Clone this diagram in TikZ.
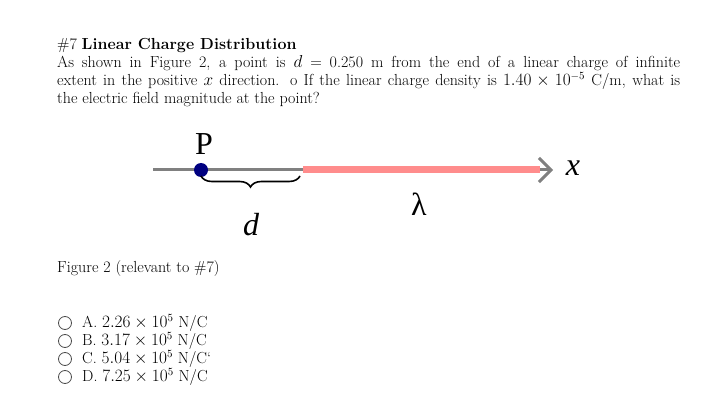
\documentclass[tikz,border=0pt]{standalone}
\usepackage{fontspec}
\newfontfamily\lbl{Liberation Serif}
\usetikzlibrary{decorations.pathreplacing,arrows.meta}
\begin{document}
\begin{tikzpicture}[x=1pt,y=-1pt,
  body/.style={anchor=north west,inner sep=0,font=\fontsize{16}{18}\selectfont},
  big/.style={font=\lbl\fontsize{32}{32}\selectfont},
  opt/.style={circle,draw=black!70,line width=0.8pt,minimum size=13pt,inner sep=0}]
\useasboundingbox (0,0) rectangle (720,414);
\node[body,text width=623pt,align=justify] (txt) at (57,38) {\#7 \textbf{Linear Charge Distribution}\\
As shown in Figure 2, a point is $d$ = 0.250 m from the end of a linear charge of infinite\linebreak extent in the positive $x$ direction. o If the linear charge density is $1.40\times10^{-5}$ C/m, what is\linebreak the electric field magnitude at the point?};
\coordinate (L) at (153,170);
\coordinate (E) at (303,170);
\coordinate (R) at (540,170);
\coordinate (T) at (553,170);
\draw[gray,line width=3pt] (L) -- (E);
\draw[red!45!white,line width=7pt] (E) -- (R);
\draw[gray,line width=3pt,-{Straight Barb[length=12pt,width=24pt,line width=3pt]}] (R) -- (T);
\node[circle,fill=blue!50!black,minimum size=14pt,inner sep=0] (P) at (201,170) {};
\node[big] (Pl) at (204,144) {P};
\node[big] (xl) at (573,168) {\itshape x};
\coordinate (b1) at (201,176);
\coordinate (b2) at (300,176);
\draw[line width=1.6pt,decorate,decoration={brace,mirror,amplitude=11pt}] (b1) -- (b2);
\node[big] (dl) at (251,225) {\itshape d};
\node[big] (ll) at (419,204) {λ};
\node[body] (fig) at (57,260) {Figure 2 (relevant to \#7)};
\foreach \y/\t [count=\i] in {323/{A. $2.26\times10^{5}$ N/C},341/{B. $3.17\times10^{5}$ N/C},359/{C. $5.04\times10^{5}$ N/C`},377/{D. $7.25\times10^{5}$ N/C}}{
  \node[opt] (o\i) at (65,\y) {};
  \node[body,anchor=west] (t\i) at (82,\y) {\t};
}
\end{tikzpicture}
\end{document}
